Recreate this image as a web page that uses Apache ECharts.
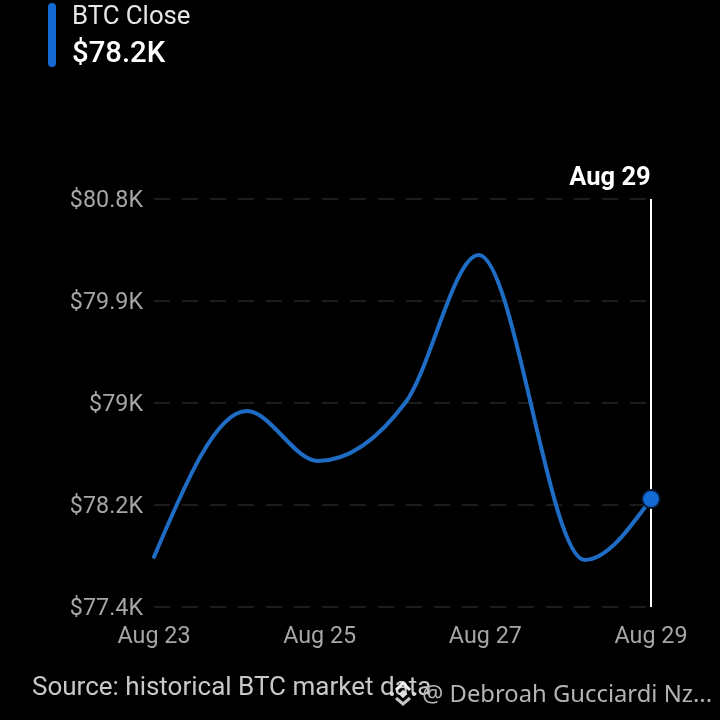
<!DOCTYPE html>
<html><head><meta charset="utf-8">
<style>html,body{margin:0;padding:0;background:#000}#c{width:720px;height:720px}</style>
<script src="https://cdn.jsdelivr.net/npm/echarts@6/dist/echarts.min.js"></script>
</head><body><div id="c"></div>
<script>
const xTickLabels = ["Aug 23","Aug 25","Aug 27","Aug 29"];
const daysSinceStart = [0,1.12,1.98,3.04,3.92,5.2,6];
const closeValues = [77.767,78.983,78.567,79.058,80.283,77.742,78.25];
const yTickLabels = ["$77.4K","$78.2K","$79K","$79.9K","$80.8K"];
const chart = echarts.init(document.getElementById('c'),null,{renderer:'canvas'});
const F='Roboto';
const lastX = daysSinceStart[daysSinceStart.length-1];
const seriesData = daysSinceStart.map((d,i)=>[d,closeValues[i]]);
const sgn=v=>v<0?-1:1;
// monotone cubic path through the data points, in pixel space from the axes
function monotonePath(pts){
  const n=pts.length,h=[],s=[],t=[];
  for(let i=0;i<n-1;i++){h[i]=pts[i+1][0]-pts[i][0];s[i]=(pts[i+1][1]-pts[i][1])/h[i];}
  for(let i=1;i<n-1;i++){
    const p=(s[i-1]*h[i]+s[i]*h[i-1])/(h[i-1]+h[i]);
    t[i]=(sgn(s[i-1])+sgn(s[i]))*Math.min(Math.abs(s[i-1]),Math.abs(s[i]),0.5*Math.abs(p))||0;
  }
  t[0]=(3*s[0]-t[1])/2; t[n-1]=(3*s[n-2]-t[n-2])/2;
  let d=`M${pts[0][0]} ${pts[0][1]}`;
  for(let i=0;i<n-1;i++){
    const dx=h[i]/3;
    d+=`C${pts[i][0]+dx} ${pts[i][1]+dx*t[i]} ${pts[i+1][0]-dx} ${pts[i+1][1]-dx*t[i+1]} ${pts[i+1][0]} ${pts[i+1][1]}`;
  }
  return d;
}
chart.setOption({
  backgroundColor:'#000',animation:false,
  grid:{left:154,right:69,top:199,bottom:113},
  xAxis:{type:'value',min:0,max:6,interval:2,
    axisLine:{show:false},axisTick:{show:false},splitLine:{show:false},
    axisLabel:{color:'#a6a6a6',fontFamily:F,fontSize:23.3,margin:19,showMaxLabel:true,showMinLabel:true,hideOverlap:false,
      formatter:(v)=>xTickLabels[Math.round(v/2)]}},
  yAxis:{type:'value',min:77.35,max:80.75,interval:0.85,
    axisLine:{show:false},axisTick:{show:false},
    splitLine:{show:true,lineStyle:{color:'#1c1c1c',width:2,type:[16,12]}},
    axisLabel:{color:'#a6a6a6',fontFamily:F,fontSize:23.3,margin:11,verticalAlign:'top',lineHeight:4,
      formatter:(v)=>yTickLabels[Math.round((v-77.35)/0.85)]}},
  series:[
   {type:'custom',data:seriesData,z:3,clip:false,silent:true,
    encode:{x:0,y:1},
    renderItem:(params,api)=>{
      if(params.dataIndex!==0) return null;
      const pts=seriesData.map(p=>api.coord(p));
      return {type:'path',shape:{pathData:monotonePath(pts)},
        style:{fill:null,stroke:'#1f6cc4',lineWidth:4,lineCap:'round',lineJoin:'round'}};
    }},
   {type:'line',data:seriesData,
    lineStyle:{width:0,opacity:0},
    symbol:'circle',
    symbolSize:(v,p)=>p.dataIndex===closeValues.length-1?18:0,
    showSymbol:true,showAllSymbol:true,
    itemStyle:{color:'#1469d2',borderColor:'#06142e',borderWidth:2},
    z:4,
    markLine:{silent:true,symbol:'none',z:2,
      data:[{xAxis:lastX}],
      lineStyle:{color:'#fff',width:2,type:'solid'},
      label:{show:true,position:'end',formatter:xTickLabels[xTickLabels.length-1],color:'#fff',fontFamily:F,fontSize:25.5,fontWeight:'bold',distance:7,offset:[-41,0]}}
  }],
  graphic:[
    {type:'rect',shape:{x:48,y:3,width:8,height:64,r:4},style:{fill:'#1469d2'}},
    {type:'text',x:72,y:18,scaleX:1.03,style:{text:'BTC Close',fill:'#e6e6e6',font:'25px Roboto',textVerticalAlign:'middle'}},
    {type:'text',x:72,y:55,style:{text:'$78.2K',fill:'#fff',font:'500 29.3px Roboto',textVerticalAlign:'middle'}},
    {type:'text',x:32,y:689,scaleX:1.04,style:{text:'Source: historical BTC market data',fill:'#c8c8c8',font:'25px Roboto',textVerticalAlign:'middle'}},
    {type:'text',x:422,y:695,style:{text:'@ Debroah Gucciardi Nz...',fill:'#b4b4b4',font:'23.8px "Noto Sans"',textVerticalAlign:'middle'}},
    {type:'group',x:403,y:692,children:[
      {type:'polyline',shape:{points:[[-7,-2],[0,-9],[7,-2]]},style:{stroke:'#f0f0f0',lineWidth:3,fill:null}},
      {type:'polyline',shape:{points:[[-7,6],[0,12],[7,6]]},style:{stroke:'#c4c4c4',lineWidth:3,fill:null}},
      {type:'rect',shape:{x:-3,y:-1,width:6,height:6},rotation:Math.PI/4,originX:0,originY:2,style:{fill:'#e0e0e0'}},
      {type:'circle',shape:{cx:-11,cy:2,r:2},style:{fill:'#e0e0e0'}},
      {type:'circle',shape:{cx:11,cy:2,r:2},style:{fill:'#e0e0e0'}}
    ]}
  ]
});
</script></body></html>
